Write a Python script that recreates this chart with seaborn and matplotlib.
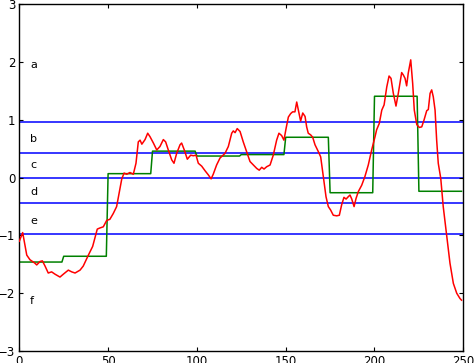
import numpy as np
import pandas as pd
import matplotlib
matplotlib.use("Agg")
import matplotlib.pyplot as plt
import seaborn as sns

# ---- data ----
red_x = [0, 1.9, 4.2, 6, 8.8, 9.8, 11.7, 13, 14.5, 16.3, 18.2, 20.1, 22.9, 24.8, 27.6, 29.5,
         31.4, 34.2, 36, 38.9, 41.3, 43.9, 45.4, 47.3, 49.2, 51, 52.9, 54.8, 57.7, 59, 60.5,
         62.3, 64.2, 65.7, 67, 68, 69, 70.8, 72.3, 73.6, 75.5, 77.4, 79.2, 81.1, 82.4, 83.9,
         85.8, 87.1, 88.6, 90.5, 91.4, 92.9, 94.6, 96.5, 98, 99.5, 100.8, 102.7, 104.6, 106.4,
         108, 109.2, 111.1, 113, 115.8, 117.7, 119.6, 120.5, 121.5, 122.7, 124.3, 126.1, 128,
         129.9, 131.8, 133.7, 135.1, 136.5, 137.8, 139.3, 141.2, 143, 144.9, 146.2, 147.7, 149,
         150.2, 151.5, 152.8, 153.9, 155.2, 156.2, 157.5, 158.4, 159.6, 160.9, 161.8, 162.7,
         164.1, 165.2, 166.5, 168.4, 169.7, 171.2, 172.7, 174, 175.3, 176.8, 178.7, 180.2,
         181.5, 182.8, 184, 185.2, 186.2, 187.2, 188.5, 189.6, 190.9, 192.8, 194.6, 196.5,
         198.4, 200.3, 201.2, 202.7, 204.1, 205.4, 206.9, 208.2, 209.3, 210.6, 212.1, 213.4,
         215.3, 216.2, 217.2, 218.1, 219, 220.4, 221.5, 222.4, 223.8, 225.2, 226.6, 227.9,
         229.4, 230.3, 231.3, 232.2, 233.1, 234.1, 235, 235.9, 237.3, 238.7, 240.7, 242.5,
         244.4, 246.3, 248.1, 249]
red_y = [-1.10, -0.95, -1.34, -1.42, -1.48, -1.51, -1.45, -1.44, -1.53, -1.65, -1.63, -1.67,
         -1.72, -1.67, -1.60, -1.63, -1.65, -1.60, -1.53, -1.34, -1.19, -0.89, -0.87, -0.85,
         -0.74, -0.72, -0.62, -0.50, -0.02, 0.08, 0.06, 0.09, 0.06, 0.25, 0.62, 0.65, 0.58,
         0.66, 0.77, 0.71, 0.60, 0.48, 0.54, 0.66, 0.62, 0.48, 0.31, 0.25, 0.42, 0.57, 0.60,
         0.48, 0.32, 0.39, 0.38, 0.39, 0.25, 0.20, 0.12, 0.05, -0.02, 0.06, 0.22, 0.34, 0.42,
         0.54, 0.77, 0.81, 0.78, 0.85, 0.80, 0.62, 0.45, 0.28, 0.22, 0.16, 0.13, 0.18, 0.15,
         0.19, 0.22, 0.39, 0.65, 0.77, 0.73, 0.65, 0.85, 1.05, 1.11, 1.14, 1.14, 1.31, 1.11,
         0.98, 1.12, 1.06, 0.88, 0.77, 0.74, 0.70, 0.57, 0.45, 0.36, 0.02, -0.33, -0.50, -0.56,
         -0.65, -0.66, -0.65, -0.47, -0.34, -0.37, -0.33, -0.30, -0.37, -0.50, -0.36, -0.24,
         -0.13, 0.02, 0.22, 0.48, 0.71, 0.83, 0.94, 1.17, 1.26, 1.57, 1.76, 1.72, 1.46, 1.24,
         1.46, 1.82, 1.78, 1.72, 1.59, 1.81, 2.04, 1.63, 1.17, 0.92, 0.87, 0.88, 1.00, 1.16,
         1.18, 1.46, 1.52, 1.40, 1.17, 0.65, 0.25, -0.01, -0.50, -1.02, -1.48, -1.83, -2.00,
         -2.09, -2.12]

paa_values = [-1.46, -1.36, 0.07, 0.46, 0.375, 0.40, 0.70, -0.26, 1.41, -0.235]
segment_length = 25

breakpoints = [0.967, 0.431, 0.0, -0.431, -0.967]
letters = ["a", "b", "c", "d", "e", "f"]
letter_y = [1.90, 0.61, 0.16, -0.30, -0.80, -2.19]

xticks = [0, 50, 100, 150, 200, 250]
yticks = [-3, -2, -1, 0, 1, 2, 3]

# ---- figure ----
W, H = 474, 363
fig = plt.figure(figsize=(W / 100, H / 100), dpi=100)
ax = fig.add_axes([19.3 / W, (H - 351) / H, 444 / W, 346.6 / H])

red_df = pd.DataFrame({"x": red_x, "y": red_y})
paa_series = np.repeat(paa_values, segment_length)
green_df = pd.DataFrame({"x": np.arange(len(paa_series)), "y": paa_series})

for b in breakpoints:
    ax.axhline(b, color="#0000ff", lw=1.1, zorder=1)

sns.lineplot(data=green_df, x="x", y="y", ax=ax, color="#008000", lw=1.1,
             estimator=None, sort=False, zorder=2)
sns.lineplot(data=red_df, x="x", y="y", ax=ax, color="#ff0000", lw=1.1,
             estimator=None, sort=False, zorder=3)

for lab, yy in zip(letters, letter_y):
    ax.text(6, yy, lab, ha="left", va="baseline", fontsize=8, color="black")

ax.set_xlim(0, 250)
ax.set_ylim(-3, 3)
ax.set_xticks(xticks)
ax.set_yticks(yticks)
ax.set_xlabel("")
ax.set_ylabel("")
ax.tick_params(direction="in", length=3, width=0.8, top=True, right=True,
               labelsize=8.5, pad=3)
for s in ax.spines.values():
    s.set_linewidth(1.0)
    s.set_color("black")

fig.savefig("out.png", dpi=100)
